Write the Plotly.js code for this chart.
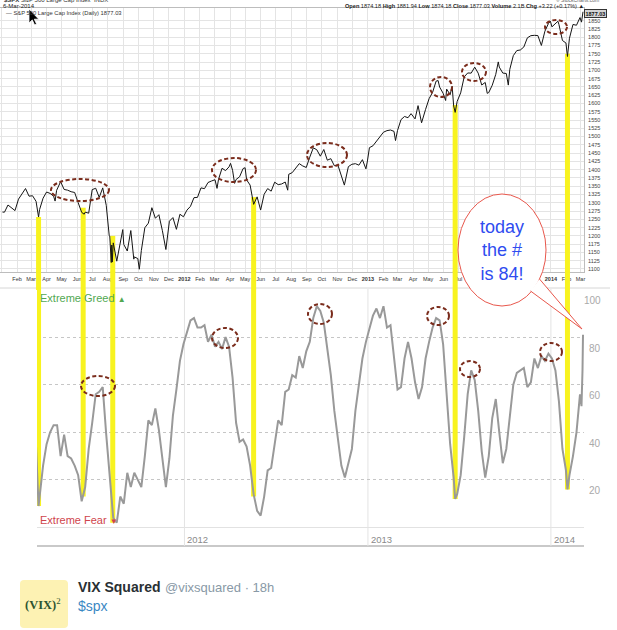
<!DOCTYPE html>
<html><head><meta charset="utf-8">
<script src="https://cdn.plot.ly/plotly-3.0.1.min.js"></script>
<style>html,body{margin:0;padding:0;background:#fff;overflow:hidden}#chart{width:617px;height:630px}</style>
</head><body><div id="chart"></div>
<script>
// ---------- DATA ----------
const spxDates = ['2011-01-03','2011-01-07','2011-01-14','2011-01-21','2011-01-28','2011-02-04','2011-02-11','2011-02-18','2011-02-25','2011-03-04','2011-03-11','2011-03-16','2011-03-18','2011-03-25','2011-04-01','2011-04-08','2011-04-15','2011-04-18','2011-04-21','2011-04-29','2011-05-06','2011-05-13','2011-05-20','2011-05-27','2011-06-03','2011-06-10','2011-06-15','2011-06-17','2011-06-24','2011-07-01','2011-07-08','2011-07-15','2011-07-22','2011-07-29','2011-08-04','2011-08-05','2011-08-08','2011-08-09','2011-08-10','2011-08-12','2011-08-19','2011-08-26','2011-08-31','2011-09-02','2011-09-09','2011-09-16','2011-09-22','2011-09-23','2011-09-30','2011-10-03','2011-10-07','2011-10-14','2011-10-21','2011-10-27','2011-10-28','2011-11-04','2011-11-11','2011-11-18','2011-11-25','2011-12-02','2011-12-09','2011-12-16','2011-12-23','2011-12-30',
'2012-01-06','2012-01-13','2012-01-20','2012-01-27','2012-02-03','2012-02-10','2012-02-17','2012-02-24','2012-03-02','2012-03-06','2012-03-09','2012-03-16','2012-03-23','2012-03-30','2012-04-02','2012-04-06','2012-04-10','2012-04-13','2012-04-20','2012-04-27','2012-05-01','2012-05-04','2012-05-11','2012-05-18','2012-05-25','2012-06-01','2012-06-08','2012-06-15','2012-06-22','2012-06-29','2012-07-06','2012-07-13','2012-07-20','2012-07-25','2012-07-27','2012-08-03','2012-08-10','2012-08-17','2012-08-24','2012-08-31','2012-09-07','2012-09-14','2012-09-21','2012-09-28','2012-10-05','2012-10-12','2012-10-19','2012-10-26','2012-11-02','2012-11-09','2012-11-15','2012-11-23','2012-11-30','2012-12-07','2012-12-14','2012-12-21','2012-12-28','2012-12-31',
'2013-01-04','2013-01-11','2013-01-18','2013-01-25','2013-02-01','2013-02-08','2013-02-15','2013-02-22','2013-02-25','2013-03-01','2013-03-08','2013-03-15','2013-03-22','2013-03-28','2013-04-05','2013-04-11','2013-04-18','2013-04-26','2013-05-03','2013-05-10','2013-05-17','2013-05-21','2013-05-24','2013-05-31','2013-06-05','2013-06-07','2013-06-14','2013-06-18','2013-06-21','2013-06-24','2013-06-28','2013-07-05','2013-07-12','2013-07-19','2013-07-26','2013-08-02','2013-08-09','2013-08-16','2013-08-23','2013-08-27','2013-08-30','2013-09-06','2013-09-13','2013-09-18','2013-09-20','2013-09-27','2013-10-04','2013-10-08','2013-10-11','2013-10-18','2013-10-25','2013-11-01','2013-11-08','2013-11-15','2013-11-22','2013-11-29','2013-12-06','2013-12-13','2013-12-20','2013-12-27','2013-12-31',
'2014-01-03','2014-01-10','2014-01-15','2014-01-17','2014-01-24','2014-01-31','2014-02-03','2014-02-07','2014-02-14','2014-02-21','2014-02-28','2014-03-03','2014-03-06'];
const spxClose = [1271.9,1271.5,1293.2,1283.4,1276.3,1310.9,1329.2,1343.0,1319.9,1321.2,1304.3,1256.9,1279.2,1313.8,1332.4,1328.2,1319.7,1305.1,1337.4,1363.6,1340.2,1338.0,1333.3,1331.1,1300.2,1271.0,1265.4,1271.5,1268.5,1339.7,1343.8,1316.1,1345.0,1292.3,1200.1,1199.4,1119.5,1172.5,1120.8,1178.8,1123.5,1176.8,1218.9,1174.0,1154.2,1216.0,1129.6,1136.4,1131.4,1099.2,1155.5,1224.6,1238.3,1284.6,1285.1,1253.2,1263.9,1215.7,1158.7,1244.3,1255.2,1219.7,1265.3,1257.6,
1277.8,1289.1,1315.4,1316.3,1344.9,1342.6,1361.2,1365.7,1369.6,1343.4,1370.9,1404.2,1397.1,1408.5,1419.0,1398.1,1358.6,1370.3,1378.5,1403.4,1405.8,1369.1,1353.4,1295.2,1317.8,1278.0,1325.7,1342.8,1335.0,1362.2,1354.7,1356.8,1362.7,1337.9,1386.0,1391.0,1405.9,1418.2,1411.1,1406.6,1437.9,1465.8,1460.2,1440.7,1460.9,1428.6,1433.2,1411.9,1414.2,1380.0,1353.3,1409.2,1416.2,1418.1,1413.6,1430.2,1402.4,1426.2,
1466.5,1472.1,1486.0,1503.0,1513.2,1517.9,1519.8,1515.6,1487.9,1518.2,1551.2,1560.7,1556.9,1569.2,1553.3,1593.4,1541.6,1582.2,1614.4,1633.7,1667.5,1669.2,1649.6,1630.7,1608.9,1643.4,1626.7,1651.8,1592.4,1573.1,1606.3,1631.9,1680.2,1692.1,1691.7,1709.7,1691.4,1655.8,1663.5,1630.5,1633.0,1655.2,1688.0,1725.5,1709.9,1691.8,1690.5,1655.5,1703.2,1744.5,1759.8,1761.6,1770.6,1798.2,1804.8,1805.8,1805.1,1775.3,1818.3,1841.4,1848.4,
1831.4,1842.4,1848.4,1838.7,1790.3,1782.6,1741.9,1797.0,1838.6,1836.3,1859.5,1845.7,1877.0];

const fgDates = ['2011-03-11','2011-03-16','2011-03-25','2011-04-01','2011-04-08','2011-04-15','2011-04-22','2011-04-29','2011-05-06','2011-05-13','2011-05-20','2011-05-27','2011-06-03','2011-06-10','2011-06-17','2011-06-24','2011-07-01','2011-07-08','2011-07-15','2011-07-22','2011-07-29','2011-08-05','2011-08-12','2011-08-19','2011-08-26','2011-09-02','2011-09-09','2011-09-16','2011-09-23','2011-09-30','2011-10-07','2011-10-14','2011-10-21','2011-10-28','2011-11-04','2011-11-11','2011-11-18','2011-11-25','2011-12-02','2011-12-09','2011-12-16','2011-12-23','2011-12-30',
'2012-01-06','2012-01-13','2012-01-20','2012-01-27','2012-02-03','2012-02-10','2012-02-17','2012-02-24','2012-03-02','2012-03-09','2012-03-16','2012-03-23','2012-03-30','2012-04-06','2012-04-13','2012-04-20','2012-04-27','2012-05-04','2012-05-11','2012-05-18','2012-05-25','2012-06-01','2012-06-08','2012-06-15','2012-06-22','2012-06-29','2012-07-06','2012-07-13','2012-07-20','2012-07-27','2012-08-03','2012-08-10','2012-08-17','2012-08-24','2012-08-31','2012-09-07','2012-09-14','2012-09-21','2012-09-28','2012-10-05','2012-10-12','2012-10-19','2012-10-26','2012-11-02','2012-11-09','2012-11-16','2012-11-23','2012-11-30','2012-12-07','2012-12-14','2012-12-21','2012-12-28',
'2013-01-04','2013-01-11','2013-01-18','2013-01-25','2013-02-01','2013-02-08','2013-02-15','2013-02-22','2013-03-01','2013-03-08','2013-03-15','2013-03-22','2013-03-29','2013-04-05','2013-04-12','2013-04-19','2013-04-26','2013-05-03','2013-05-10','2013-05-17','2013-05-24','2013-05-31','2013-06-07','2013-06-14','2013-06-21','2013-06-24','2013-06-28','2013-07-05','2013-07-12','2013-07-19','2013-07-26','2013-08-02','2013-08-09','2013-08-16','2013-08-23','2013-08-30','2013-09-06','2013-09-13','2013-09-20','2013-09-27','2013-10-04','2013-10-11','2013-10-18','2013-10-25','2013-11-01','2013-11-08','2013-11-15','2013-11-22','2013-11-29','2013-12-06','2013-12-13','2013-12-20','2013-12-27',
'2014-01-03','2014-01-10','2014-01-17','2014-01-24','2014-01-31','2014-02-03','2014-02-07','2014-02-14','2014-02-21','2014-02-28','2014-03-03','2014-03-05','2014-03-06'];
const fgValues = [34,9,26,35,40,43,43,30,39,30,29,26,22,11,17,33,44,56,57,59,39,20,4,2,13,10,23,17,23,20,17,30,45,43,50,41,28,17,29,47,58,70,77,
82,87,88,84,84,85,78,81,76,78,75,80,76,63,44,36,37,34,26,14,7,5,13,24,25,35,45,43,57,58,64,63,72,67,74,78,88,93,91,86,76,64,49,37,26,21,27,33,49,61,71,78,
84,89,92,88,93,84,85,71,58,59,71,78,71,61,54,59,71,78,84,88,87,77,57,35,21,12,14,22,38,56,66,62,49,32,21,30,46,54,40,27,33,47,60,65,66,67,59,61,71,67,72,70,73,
71,66,53,33,24,16,22,30,40,56,51,66,81];

const tickYears = ['2011','2012','2013','2014'];
const tickMonths = ['Feb','Mar','Apr','May','Jun','Jul','Aug','Sep','Oct','Nov','Dec'];
const hiddenTickMonths = ['2013-08-01','2013-09-01','2013-10-01','2013-11-01','2013-12-01']; // covered by the callout in the reference
const spxPriceTicks = [1100,1125,1150,1175,1200,1225,1250,1275,1300,1325,1350,1375,1400,1425,1450,1475,1500,1525,1550,1575,1600,1625,1650,1675,1700,1725,1750,1775,1800,1825,1850];
const fgTicks = [20,40,60,80,100];
const fgYearTicks = ['2012-01-01','2013-01-01','2014-01-01'];
const fgYearLabels = ['2012','2013','2014'];
const dipDates = ['2011-03-16','2011-06-13','2011-08-11','2012-05-18','2013-06-24','2014-02-03'];
const dipPrice = [1257,1285,1200,1317,1595,1750];
const dipIndex = [9,13,2,13,12,16];
const calloutLines = ['today','the #','is 84!'];

// ---------- LAYOUT HELPERS ----------
const W = 617, H = 630;
const fx = x => x / W, fy = y => 1 - y / H;
const FONT = 'Liberation Sans, Arial, Helvetica, sans-serif';
const pathPx = (pts, close) => pts.map((p, i) => (i ? 'L' : 'M') + fx(p[0]).toFixed(5) + ',' + fy(p[1]).toFixed(5)).join(' ') + (close ? ' Z' : '');

// monthly ticks for the price chart
const xTickVals = [], xTickText = [];
tickYears.forEach((yr) => {
  xTickVals.push(yr + '-01-01'); xTickText.push('<b>' + yr + '</b>');
  tickMonths.forEach((m, mi) => {
    if (yr === '2014' && mi > 1) return;
    const d = yr + '-' + String(mi + 2).padStart(2, '0') + '-01';
    xTickVals.push(d); xTickText.push(hiddenTickMonths.includes(d) ? ' ' : m);
  });
});

const TOP_LO = 1090.8, TOP_HI = 1888.4;
const shapes = [];
const annotations = [];

// bottom chart frame lines
shapes.push({type:'line', xref:'paper', yref:'paper', x0:0, x1:fx(610), y0:fy(288), y1:fy(288), line:{color:'#d6d6d6', width:1}, layer:'below'});
shapes.push({type:'line', xref:'paper', yref:'paper', x0:fx(37), x1:fx(584), y0:fy(527.5), y1:fy(527.5), line:{color:'#e2e2e2', width:1}, layer:'below'});
shapes.push({type:'line', xref:'paper', yref:'paper', x0:fx(37), x1:fx(584), y0:fy(546), y1:fy(546), line:{color:'#c9c9c9', width:2}, layer:'below'});
fgYearTicks.forEach(d => shapes.push({type:'line', xref:'x2', yref:'paper', x0:d, x1:d, y0:fy(546), y1:fy(289), line:{color:'#e3e3e3', width:1}, layer:'below'}));

// yellow highlight bars
const YEL = '#f8f31f';
dipDates.forEach((d, i) => {
  shapes.push({type:'rect', xref:'x', yref:'y', xsizemode:'pixel', xanchor:d, x0:-2.5, x1:2.5, y0:TOP_LO, y1:dipPrice[i], fillcolor:YEL, line:{width:0}, layer:'between'});
  shapes.push({type:'rect', xref:'x', yref:'paper', xsizemode:'pixel', xanchor:d, x0:-2.5, x1:2.5, y0:fy(290), y1:fy(271.5), fillcolor:YEL, line:{width:0}, layer:'above'});
  shapes.push({type:'rect', xref:'x2', yref:'y2', xsizemode:'pixel', xanchor:d, x0:-2.5, x1:2.5, y0:dipIndex[i], y1:100, fillcolor:YEL, line:{width:0}, layer:'between'});
});

// dashed ellipses [cx, cy, rx, ry] in pixels
const ellipses = [[80,190,29,11],[234,170,22,12],[327,155,20,12],[441,87,11,10],[474,72,12,9],[556,27,11,7],
                  [98,386,17,10],[225,338,13,10],[320,314,12,10],[438,316,11,9],[470,369,10,8],[551,352,11,9]];
ellipses.forEach(e => shapes.push({type:'circle', xref:'paper', yref:'paper', x0:fx(e[0]-e[2]), x1:fx(e[0]+e[2]), y0:fy(e[1]+e[3]), y1:fy(e[1]-e[3]), line:{color:'#7a2c1c', width:2, dash:'4px,2.5px'}, layer:'above'}));

// callout bubble
shapes.push({type:'circle', xref:'paper', yref:'paper', x0:fx(458), x1:fx(546), y0:fy(306), y1:fy(194), fillcolor:'#ffffff', line:{color:'#e8574c', width:1}, layer:'above'});
shapes.push({type:'path', xref:'paper', yref:'paper', path:pathPx([[530.5,291],[582,329],[539.5,279]], false), fillcolor:'#ffffff', line:{color:'#e8574c', width:1}, layer:'above'});

// mouse cursor
shapes.push({type:'path', xref:'paper', yref:'paper', path:pathPx([[29,9],[29,23],[32.3,19.9],[34.6,25],[36.6,24.1],[34.3,19.2],[38.8,19.2]], true), fillcolor:'#000000', line:{color:'#ffffff', width:0.8}, layer:'above'});

// tweet avatar (rounded square)
(function(){
  const x0=20,x1=68,y0=580,y1=628,r=4;
  const P=(x,y)=>fx(x).toFixed(5)+','+fy(y).toFixed(5);
  const p = 'M'+P(x0+r,y0)+' L'+P(x1-r,y0)+' Q'+P(x1,y0)+' '+P(x1,y0+r)+' L'+P(x1,y1-r)+' Q'+P(x1,y1)+' '+P(x1-r,y1)+' L'+P(x0+r,y1)+' Q'+P(x0,y1)+' '+P(x0,y1-r)+' L'+P(x0,y0+r)+' Q'+P(x0,y0)+' '+P(x0+r,y0)+' Z';
  shapes.push({type:'path', xref:'paper', yref:'paper', path:p, fillcolor:'#fdf2b3', line:{width:0}, layer:'above'});
})();

// annotations
const A = (o) => annotations.push(Object.assign({showarrow:false, xref:'paper', yref:'paper', xanchor:'center', yanchor:'middle'}, o));
fgTicks.forEach(v => A({x:fx(603), xanchor:'right', yref:'y2', y:v, yshift:-11, text:String(v), font:{family:FONT, size:10, color:'#a9a9a9'}}));
fgYearTicks.forEach((d,i) => A({xref:'x2', x:d, xanchor:'left', xshift:1, y:fy(539), text:fgYearLabels[i], font:{family:FONT, size:9.5, color:'#8a8a8a'}}));
A({x:fx(38), xanchor:'left', y:fy(298), text:'Extreme Greed <span style="font-size:8px">▲</span>', font:{family:FONT, size:11, color:'#52a852'}});
A({x:fx(38), xanchor:'left', y:fy(520), text:'Extreme Fear <span style="font-size:8px">▼</span>', font:{family:FONT, size:11, color:'#cf444b'}});
A({x:fx(502), y:fy(251), text:calloutLines.join('<br>'), align:'center', font:{family:FONT, size:18, color:'#2f4cf0'}});
// header
A({x:fx(2), xanchor:'left', y:fy(0), text:'<b>$SPX</b> S&P 500 Large Cap Index  INDX', font:{family:FONT, size:6, color:'#333'}});
A({x:fx(1), xanchor:'left', y:fy(6), text:'6-Mar-2014', font:{family:FONT, size:6, color:'#222'}});
A({x:fx(601), xanchor:'right', y:fy(0.5), text:'© StockCharts.com', font:{family:FONT, size:5, color:'#666'}});
A({x:fx(586), xanchor:'right', y:fy(6), text:'<b>Open</b> 1874.18 <b>High</b> 1881.94 <b>Low</b> 1874.18 <b>Close</b> 1877.03 <b>Volume</b> 2.1B <b>Chg</b> +3.22 (+0.17%) ▲', font:{family:FONT, size:5.6, color:'#222'}});
A({x:fx(4), xanchor:'left', y:fy(12.8), text:'— S&P 500 Large Cap Index (Daily) 1877.03', font:{family:FONT, size:5.8, color:'#333'}});
A({x:fx(595), y:fy(13), text:'<b>1877.03</b>', font:{family:FONT, size:5.5, color:'#111'}, bgcolor:'#d4d4d4', bordercolor:'#333', borderwidth:1, borderpad:0.5});
// tweet
A({x:fx(43), y:fy(604), text:'<b>(VIX)</b><sup>2</sup>', font:{family:'Liberation Serif, DejaVu Serif, serif', size:12.5, color:'#2d5430'}});
A({x:fx(76), xanchor:'left', y:fy(587), text:'<b>VIX Squared</b>', font:{family:FONT, size:14, color:'#292f33'}});
A({x:fx(163), xanchor:'left', y:fy(587), text:'@vixsquared · 18h', font:{family:FONT, size:13, color:'#8899a6'}});
A({x:fx(76), xanchor:'left', y:fy(606), text:'$spx', font:{family:FONT, size:14, color:'#3b88c3'}});

const traces = [
  {x:spxDates, y:spxClose, xaxis:'x', yaxis:'y', type:'scatter', mode:'lines', line:{color:'#151515', width:1}, hoverinfo:'skip'},
  {x:fgDates, y:fgValues, xaxis:'x2', yaxis:'y2', type:'scatter', mode:'lines', line:{color:'#999999', width:2}, hoverinfo:'skip'}
];

const layout = {
  width:W, height:H, margin:{l:0, r:0, t:0, b:0}, paper_bgcolor:'#ffffff', plot_bgcolor:'rgba(0,0,0,0)',
  showlegend:false, font:{family:FONT},
  xaxis:{domain:[0, fx(584)], type:'date', range:['2010-12-29 02:10','2014-03-08'], anchor:'y',
         tickmode:'array', tickvals:xTickVals, ticktext:xTickText, tickfont:{family:FONT, size:5.5, color:'#333'},
         showgrid:true, gridcolor:'#e4e4e4', gridwidth:1, showline:true, linecolor:'#bdbdbd', linewidth:1, mirror:true,
         ticks:'', ticklabelstandoff:1, zeroline:false, fixedrange:true},
  yaxis:{domain:[fy(272), fy(8)], range:[TOP_LO, TOP_HI], anchor:'x', side:'right',
         tickmode:'array', tickvals:spxPriceTicks, tickfont:{family:FONT, size:5.5, color:'#444'},
         showgrid:true, gridcolor:'#e4e4e4', gridwidth:1, showline:true, linecolor:'#bdbdbd', linewidth:1, mirror:true,
         ticks:'', ticklabelstandoff:2, zeroline:false, fixedrange:true},
  xaxis2:{domain:[fx(37), fx(584)], type:'date', range:['2011-03-12 21:36','2014-03-08'], anchor:'y2',
          showticklabels:false, showgrid:false, zeroline:false, showline:false, fixedrange:true},
  yaxis2:{domain:[fy(527.5), fy(289.5)], range:[0,100], anchor:'x2', tickmode:'array', tickvals:[20,40,60,80],
          showticklabels:false, showgrid:true, gridcolor:'#c6c6c6', griddash:'dot', gridwidth:1, zeroline:false, showline:false, fixedrange:true},
  shapes:shapes, annotations:annotations
};

Plotly.newPlot('chart', traces, layout, {displayModeBar:false, staticPlot:true});
</script></body></html>
